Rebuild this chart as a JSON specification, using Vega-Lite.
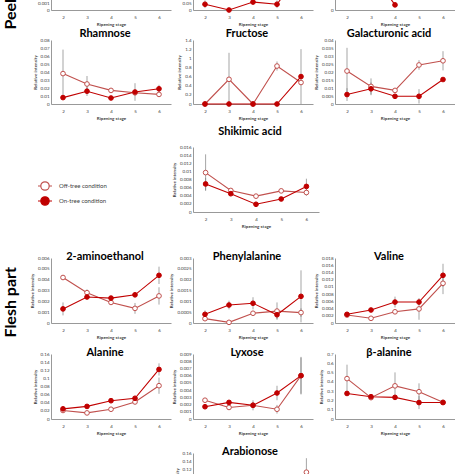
{
"$schema":"https://vega.github.io/schema/vega-lite/v6.json",
"background":"white",
"padding":{"top":-57,"left":3,"right":0,"bottom":0},
"datasets":{"d":[
{"p":"B0","c":"On","s":2,"v":0.045,"e":0.03},{"p":"B0","c":"On","s":3,"v":0,"e":0},{"p":"B0","c":"On","s":4,"v":0.062,"e":0.01},{"p":"B0","c":"On","s":5,"v":0.045,"e":0.03},{"p":"B0","c":"On","s":6,"v":0.3,"e":0.02},
{"p":"C0","c":"On","s":3,"v":0.6,"e":0.1},{"p":"C0","c":"On","s":4,"v":0.08,"e":0.01},
{"p":"Rh","c":"Off","s":2,"v":0.038,"e":0.03},{"p":"Rh","c":"Off","s":3,"v":0.025,"e":0.01},{"p":"Rh","c":"Off","s":4,"v":0.017,"e":0.002},{"p":"Rh","c":"Off","s":5,"v":0.014,"e":0.003},{"p":"Rh","c":"Off","s":6,"v":0.012,"e":0.003},
{"p":"Rh","c":"On","s":2,"v":0.008,"e":0.002},{"p":"Rh","c":"On","s":3,"v":0.016,"e":0.006},{"p":"Rh","c":"On","s":4,"v":0.0075,"e":0.002},{"p":"Rh","c":"On","s":5,"v":0.015,"e":0.011},{"p":"Rh","c":"On","s":6,"v":0.019,"e":0.005},
{"p":"Fr","c":"Off","s":2,"v":0,"e":0},{"p":"Fr","c":"Off","s":3,"v":0.54,"e":0.58},{"p":"Fr","c":"Off","s":4,"v":0,"e":0},{"p":"Fr","c":"Off","s":5,"v":0.83,"e":0.1},{"p":"Fr","c":"Off","s":6,"v":0.47,"e":0.73},
{"p":"Fr","c":"On","s":2,"v":0,"e":0},{"p":"Fr","c":"On","s":3,"v":0,"e":0},{"p":"Fr","c":"On","s":4,"v":0,"e":0},{"p":"Fr","c":"On","s":5,"v":0,"e":0},{"p":"Fr","c":"On","s":6,"v":0.6,"e":0.05},
{"p":"Ga","c":"Off","s":2,"v":0.0206,"e":0.0145},{"p":"Ga","c":"Off","s":3,"v":0.011,"e":0.005},{"p":"Ga","c":"Off","s":4,"v":0.0085,"e":0.001},{"p":"Ga","c":"Off","s":5,"v":0.0244,"e":0.003},{"p":"Ga","c":"Off","s":6,"v":0.027,"e":0.006},
{"p":"Ga","c":"On","s":2,"v":0.0059,"e":0.004},{"p":"Ga","c":"On","s":3,"v":0.0095,"e":0.004},{"p":"Ga","c":"On","s":4,"v":0.0048,"e":0.001},{"p":"Ga","c":"On","s":5,"v":0.0048,"e":0.0045},{"p":"Ga","c":"On","s":6,"v":0.0153,"e":0.001},
{"p":"Sh","c":"Off","s":2,"v":0.0097,"e":0.0045},{"p":"Sh","c":"Off","s":3,"v":0.0053,"e":0.0006},{"p":"Sh","c":"Off","s":4,"v":0.0039,"e":0.0003},{"p":"Sh","c":"Off","s":5,"v":0.0052,"e":0.0003},{"p":"Sh","c":"Off","s":6,"v":0.0048,"e":0.0008},
{"p":"Sh","c":"On","s":2,"v":0.0069,"e":0.0015},{"p":"Sh","c":"On","s":3,"v":0.0045,"e":0.0004},{"p":"Sh","c":"On","s":4,"v":0.0019,"e":0.0006},{"p":"Sh","c":"On","s":5,"v":0.0032,"e":0.0003},{"p":"Sh","c":"On","s":6,"v":0.0063,"e":0.0019},
{"p":"Am","c":"Off","s":2,"v":0.0042,"e":0.0002},{"p":"Am","c":"Off","s":3,"v":0.0028,"e":0.0003},{"p":"Am","c":"Off","s":4,"v":0.0019,"e":0.0002},{"p":"Am","c":"Off","s":5,"v":0.00135,"e":0.0005},{"p":"Am","c":"Off","s":6,"v":0.0025,"e":0.0008},
{"p":"Am","c":"On","s":2,"v":0.0013,"e":0.0006},{"p":"Am","c":"On","s":3,"v":0.0024,"e":0.0002},{"p":"Am","c":"On","s":4,"v":0.0023,"e":0.0001},{"p":"Am","c":"On","s":5,"v":0.0026,"e":0.0001},{"p":"Am","c":"On","s":6,"v":0.0044,"e":0.0008},
{"p":"Ph","c":"Off","s":2,"v":0.0002,"e":0.0001},{"p":"Ph","c":"Off","s":3,"v":0.00003,"e":0},{"p":"Ph","c":"Off","s":4,"v":0.00045,"e":0.0001},{"p":"Ph","c":"Off","s":5,"v":0.00055,"e":0.0004},{"p":"Ph","c":"Off","s":6,"v":0.00048,"e":0.0002},
{"p":"Ph","c":"On","s":2,"v":0.0004,"e":0.00018},{"p":"Ph","c":"On","s":3,"v":0.00083,"e":0.0002},{"p":"Ph","c":"On","s":4,"v":0.00091,"e":0.00028},{"p":"Ph","c":"On","s":5,"v":0.00038,"e":0.0002},{"p":"Ph","c":"On","s":6,"v":0.00123,"e":0.0012},
{"p":"Va","c":"Off","s":2,"v":0.0022,"e":0.0002},{"p":"Va","c":"Off","s":3,"v":0.0013,"e":0.0002},{"p":"Va","c":"Off","s":4,"v":0.0031,"e":0.0003},{"p":"Va","c":"Off","s":5,"v":0.0039,"e":0.003},{"p":"Va","c":"Off","s":6,"v":0.011,"e":0.003},
{"p":"Va","c":"On","s":2,"v":0.0024,"e":0.0002},{"p":"Va","c":"On","s":3,"v":0.0036,"e":0.0003},{"p":"Va","c":"On","s":4,"v":0.0058,"e":0.0015},{"p":"Va","c":"On","s":5,"v":0.0058,"e":0.0005},{"p":"Va","c":"On","s":6,"v":0.0132,"e":0.0032},
{"p":"Al","c":"Off","s":2,"v":0.021,"e":0.004},{"p":"Al","c":"Off","s":3,"v":0.015,"e":0.002},{"p":"Al","c":"Off","s":4,"v":0.024,"e":0.003},{"p":"Al","c":"Off","s":5,"v":0.042,"e":0.006},{"p":"Al","c":"Off","s":6,"v":0.082,"e":0.02},
{"p":"Al","c":"On","s":2,"v":0.025,"e":0.004},{"p":"Al","c":"On","s":3,"v":0.031,"e":0.002},{"p":"Al","c":"On","s":4,"v":0.045,"e":0.002},{"p":"Al","c":"On","s":5,"v":0.051,"e":0.003},{"p":"Al","c":"On","s":6,"v":0.122,"e":0.015},
{"p":"Ly","c":"Off","s":2,"v":0.0026,"e":0.0002},{"p":"Ly","c":"Off","s":3,"v":0.0016,"e":0.0001},{"p":"Ly","c":"Off","s":4,"v":0.0019,"e":0.0004},{"p":"Ly","c":"Off","s":5,"v":0.00135,"e":0.0006},{"p":"Ly","c":"Off","s":6,"v":0.006,"e":0.0025},
{"p":"Ly","c":"On","s":2,"v":0.0017,"e":0.0002},{"p":"Ly","c":"On","s":3,"v":0.0023,"e":0.0001},{"p":"Ly","c":"On","s":4,"v":0.0019,"e":0.0007},{"p":"Ly","c":"On","s":5,"v":0.0036,"e":0.001},{"p":"Ly","c":"On","s":6,"v":0.006,"e":0.0026},
{"p":"Ba","c":"Off","s":2,"v":0.435,"e":0.15},{"p":"Ba","c":"Off","s":3,"v":0.23,"e":0.02},{"p":"Ba","c":"Off","s":4,"v":0.357,"e":0.145},{"p":"Ba","c":"Off","s":5,"v":0.294,"e":0.09},{"p":"Ba","c":"Off","s":6,"v":0.18,"e":0.02},
{"p":"Ba","c":"On","s":2,"v":0.275,"e":0.02},{"p":"Ba","c":"On","s":3,"v":0.24,"e":0.02},{"p":"Ba","c":"On","s":4,"v":0.233,"e":0.02},{"p":"Ba","c":"On","s":5,"v":0.177,"e":0.07},{"p":"Ba","c":"On","s":6,"v":0.177,"e":0.02},
{"p":"Ar","c":"Off","s":6,"v":0.112,"e":0.035}
]},
"data":{"name":"d"},
"config":{
 "view":{"stroke":null},
 "font":"Lato",
 "title":{"font":"Lato","fontSize":11,"fontWeight":"bold","color":"#000000","offset":-2,"dx":-6},
 "axis":{"domainColor":"#7f7f7f","domainWidth":0.8,"ticks":false,"grid":false,"labelFontSize":4.5,"labelColor":"#404040","labelFont":"Lato","titleFont":"Lato","titleFontSize":4.5,"titleColor":"#404040","titleFontWeight":"bold"},
 "axisX":{"labelPadding":4,"titlePadding":3,"labelAngle":0},
 "axisY":{"labelPadding":2,"titlePadding":3}
},
"resolve":{"scale":{"fill":"independent","stroke":"independent"},"legend":{"fill":"independent","stroke":"independent"}},
"spacing":23,
"vconcat":[
{
 "title":{"text":"Peel part","orient":"left","anchor":"end","offset":10,"fontSize":16,"fontWeight":"bold","font":"Lato","color":"#000000","dx":-23,"dy":0},
 "spacing":6,
 "resolve":{"scale":{"fill":"independent","stroke":"independent"},"legend":{"fill":"independent","stroke":"independent"}},
 "vconcat":[
 {"spacing":2,
  "resolve":{"scale":{"fill":"independent","stroke":"independent"},"legend":{"fill":"independent","stroke":"independent"}},
  "vconcat":[
  {"hconcat":[
   {"width":120,"height":64,"transform":[{"filter":"datum.p==='A0'"}],
    "encoding":{"x":{"field":"s","type":"ordinal","scale":{"type":"point","padding":0.5,"domain":[2,3,4,5,6]},"axis":{"title":"Ripening stage"}},
     "y":{"field":"v","type":"quantitative","scale":{"domain":[0,0.01]},"axis":{"values":[0,0.001,0.002,0.003,0.004,0.005,0.006,0.007,0.008,0.009,0.01],"format":"~g","title":"Relative intensity"}}},
    "layer":[
     {"mark":{"type":"errorbar","color":"#7f7f7f","thickness":0.7,"clip":true},"encoding":{"yError":{"field":"e"},"detail":{"field":"c","type":"nominal"}}},
     {"mark":{"type":"line","strokeWidth":1.1},"encoding":{"stroke":{"field":"c","type":"nominal","scale":{"domain":["Off","On"],"range":["#c0504d","#c00000"]},"legend":null}}},
     {"mark":{"type":"point","shape":"circle","size":22,"strokeWidth":1,"opacity":1},"encoding":{"fill":{"field":"c","type":"nominal","scale":{"domain":["Off","On"],"range":["#ffffff","#c00000"]},"legend":null},"stroke":{"field":"c","type":"nominal","scale":{"domain":["Off","On"],"range":["#c0504d","#c00000"]},"legend":null}}}
    ]},
   {"width":120,"height":64,"transform":[{"filter":"datum.p==='B0'"}],
    "encoding":{"x":{"field":"s","type":"ordinal","scale":{"type":"point","padding":0.5,"domain":[2,3,4,5,6]},"axis":{"title":"Ripening stage"}},
     "y":{"field":"v","type":"quantitative","scale":{"domain":[0,0.5]},"axis":{"values":[0,0.05,0.1,0.15,0.2,0.25,0.3,0.35,0.4,0.45,0.5],"format":"~g","title":"Relative intensity"}}},
    "layer":[
     {"mark":{"type":"errorbar","color":"#7f7f7f","thickness":0.7,"clip":true},"encoding":{"yError":{"field":"e"},"detail":{"field":"c","type":"nominal"}}},
     {"mark":{"type":"line","strokeWidth":1.1},"encoding":{"stroke":{"field":"c","type":"nominal","scale":{"domain":["Off","On"],"range":["#c0504d","#c00000"]},"legend":null}}},
     {"mark":{"type":"point","shape":"circle","size":22,"strokeWidth":1,"opacity":1},"encoding":{"fill":{"field":"c","type":"nominal","scale":{"domain":["Off","On"],"range":["#ffffff","#c00000"]},"legend":null},"stroke":{"field":"c","type":"nominal","scale":{"domain":["Off","On"],"range":["#c0504d","#c00000"]},"legend":null}}}
    ]},
   {"width":120,"height":64,"transform":[{"filter":"datum.p==='C0'"}],
    "encoding":{"x":{"field":"s","type":"ordinal","scale":{"type":"point","padding":0.5,"domain":[2,3,4,5,6]},"axis":{"title":"Ripening stage"}},
     "y":{"field":"v","type":"quantitative","scale":{"domain":[0,1]},"axis":{"values":[0,0.2,0.4,0.6,0.8,1],"format":"~g","title":"Relative intensity"}}},
    "layer":[
     {"mark":{"type":"errorbar","color":"#7f7f7f","thickness":0.7,"clip":true},"encoding":{"yError":{"field":"e"},"detail":{"field":"c","type":"nominal"}}},
     {"mark":{"type":"line","strokeWidth":1.1},"encoding":{"stroke":{"field":"c","type":"nominal","scale":{"domain":["Off","On"],"range":["#c0504d","#c00000"]},"legend":null}}},
     {"mark":{"type":"point","shape":"circle","size":22,"strokeWidth":1,"opacity":1},"encoding":{"fill":{"field":"c","type":"nominal","scale":{"domain":["Off","On"],"range":["#ffffff","#c00000"]},"legend":null},"stroke":{"field":"c","type":"nominal","scale":{"domain":["Off","On"],"range":["#c0504d","#c00000"]},"legend":null}}}
    ]}
  ],"spacing":22,"bounds":"flush","resolve":{"scale":{"fill":"independent","stroke":"independent"},"legend":{"fill":"independent","stroke":"independent"}}},
  {"hconcat":[
   {"width":120,"height":64,"title":"Rhamnose","transform":[{"filter":"datum.p==='Rh'"}],
    "encoding":{"x":{"field":"s","type":"ordinal","scale":{"type":"point","padding":0.5,"domain":[2,3,4,5,6]},"axis":{"title":"Ripening stage"}},
     "y":{"field":"v","type":"quantitative","scale":{"domain":[0,0.08]},"axis":{"values":[0,0.01,0.02,0.03,0.04,0.05,0.06,0.07,0.08],"format":"~g","title":"Relative intensity"}}},
    "layer":[
     {"mark":{"type":"errorbar","color":"#7f7f7f","thickness":0.7,"clip":true},"encoding":{"yError":{"field":"e"},"detail":{"field":"c","type":"nominal"}}},
     {"mark":{"type":"line","strokeWidth":1.1},"encoding":{"stroke":{"field":"c","type":"nominal","scale":{"domain":["Off","On"],"range":["#c0504d","#c00000"]},"legend":null}}},
     {"mark":{"type":"point","shape":"circle","size":22,"strokeWidth":1,"opacity":1},"encoding":{"fill":{"field":"c","type":"nominal","scale":{"domain":["Off","On"],"range":["#ffffff","#c00000"]},"legend":null},"stroke":{"field":"c","type":"nominal","scale":{"domain":["Off","On"],"range":["#c0504d","#c00000"]},"legend":null}}}
    ]},
   {"width":120,"height":64,"title":"Fructose","transform":[{"filter":"datum.p==='Fr'"}],
    "encoding":{"x":{"field":"s","type":"ordinal","scale":{"type":"point","padding":0.5,"domain":[2,3,4,5,6]},"axis":{"title":"Ripening stage"}},
     "y":{"field":"v","type":"quantitative","scale":{"domain":[0,1.4]},"axis":{"values":[0,0.2,0.4,0.6,0.8,1,1.2,1.4],"format":"~g","title":"Relative intensity"}}},
    "layer":[
     {"mark":{"type":"errorbar","color":"#7f7f7f","thickness":0.7,"clip":true},"encoding":{"yError":{"field":"e"},"detail":{"field":"c","type":"nominal"}}},
     {"mark":{"type":"line","strokeWidth":1.1},"encoding":{"stroke":{"field":"c","type":"nominal","scale":{"domain":["Off","On"],"range":["#c0504d","#c00000"]},"legend":null}}},
     {"mark":{"type":"point","shape":"circle","size":22,"strokeWidth":1,"opacity":1},"encoding":{"fill":{"field":"c","type":"nominal","scale":{"domain":["Off","On"],"range":["#ffffff","#c00000"]},"legend":null},"stroke":{"field":"c","type":"nominal","scale":{"domain":["Off","On"],"range":["#c0504d","#c00000"]},"legend":null}}}
    ]},
   {"width":120,"height":64,"title":"Galacturonic acid","transform":[{"filter":"datum.p==='Ga'"}],
    "encoding":{"x":{"field":"s","type":"ordinal","scale":{"type":"point","padding":0.5,"domain":[2,3,4,5,6]},"axis":{"title":"Ripening stage"}},
     "y":{"field":"v","type":"quantitative","scale":{"domain":[0,0.04]},"axis":{"values":[0,0.005,0.01,0.015,0.02,0.025,0.03,0.035,0.04],"format":"~g","title":"Relative intensity"}}},
    "layer":[
     {"mark":{"type":"errorbar","color":"#7f7f7f","thickness":0.7,"clip":true},"encoding":{"yError":{"field":"e"},"detail":{"field":"c","type":"nominal"}}},
     {"mark":{"type":"line","strokeWidth":1.1},"encoding":{"stroke":{"field":"c","type":"nominal","scale":{"domain":["Off","On"],"range":["#c0504d","#c00000"]},"legend":null}}},
     {"mark":{"type":"point","shape":"circle","size":22,"strokeWidth":1,"opacity":1},"encoding":{"fill":{"field":"c","type":"nominal","scale":{"domain":["Off","On"],"range":["#ffffff","#c00000"]},"legend":null},"stroke":{"field":"c","type":"nominal","scale":{"domain":["Off","On"],"range":["#c0504d","#c00000"]},"legend":null}}}
    ]}
  ],"spacing":22,"bounds":"flush","resolve":{"scale":{"fill":"independent","stroke":"independent"},"legend":{"fill":"independent","stroke":"independent"}}}
  ]},
  {"hconcat":[
   {"width":120,"height":65,"data":{"values":[{"a":1}]},"mark":{"type":"point","opacity":0}},
   {"width":126,"height":65,"title":{"text":"Shikimic acid","offset":7},"transform":[{"filter":"datum.p==='Sh'"}],
    "encoding":{"x":{"field":"s","type":"ordinal","scale":{"type":"point","padding":0.5,"domain":[2,3,4,5,6]},"axis":{"title":"Ripening stage"}},
     "y":{"field":"v","type":"quantitative","scale":{"domain":[0,0.016]},"axis":{"values":[0,0.002,0.004,0.006,0.008,0.01,0.012,0.014,0.016],"format":"~g","title":"Relative intensity"}}},
    "layer":[
     {"mark":{"type":"errorbar","color":"#7f7f7f","thickness":0.7,"clip":true},"encoding":{"yError":{"field":"e"},"detail":{"field":"c","type":"nominal"}}},
     {"mark":{"type":"line","strokeWidth":1.1},"encoding":{"stroke":{"field":"c","type":"nominal","scale":{"domain":["Off","On"],"range":["#c0504d","#c00000"]},"legend":{"orient":"none","legendX":-156,"legendY":31,"title":null,"symbolType":"M-1,0H-0.6M0.6,0H1M0.6,0A0.6,0.6,0,1,1,-0.6,0A0.6,0.6,0,1,1,0.6,0","symbolSize":196,"symbolStrokeWidth":1.2,"labelFontSize":6,"labelFont":"Lato","labelColor":"#404040","labelOffset":6,"rowPadding":-1,"labelExpr":"datum.label=='Off' ? 'Off-tree condition' : 'On-tree condition'"}}}},
     {"mark":{"type":"point","shape":"circle","size":22,"strokeWidth":1,"opacity":1},"encoding":{"fill":{"field":"c","type":"nominal","scale":{"domain":["Off","On"],"range":["#ffffff","#c00000"]},"legend":{"orient":"none","legendX":-156,"legendY":31,"title":null,"symbolType":"M-1,0H-0.6M0.6,0H1M0.6,0A0.6,0.6,0,1,1,-0.6,0A0.6,0.6,0,1,1,0.6,0","symbolSize":196,"symbolStrokeWidth":1.2,"labelFontSize":6,"labelFont":"Lato","labelColor":"#404040","labelOffset":6,"rowPadding":-1,"labelExpr":"datum.label=='Off' ? 'Off-tree condition' : 'On-tree condition'"}},"stroke":{"field":"c","type":"nominal","scale":{"domain":["Off","On"],"range":["#c0504d","#c00000"]},"legend":{"orient":"none","legendX":-156,"legendY":31,"title":null,"symbolType":"M-1,0H-0.6M0.6,0H1M0.6,0A0.6,0.6,0,1,1,-0.6,0A0.6,0.6,0,1,1,0.6,0","symbolSize":196,"symbolStrokeWidth":1.2,"labelFontSize":6,"labelFont":"Lato","labelColor":"#404040","labelOffset":6,"rowPadding":-1,"labelExpr":"datum.label=='Off' ? 'Off-tree condition' : 'On-tree condition'"}}}}
    ]}
  ],"spacing":22,"bounds":"flush","resolve":{"scale":{"fill":"independent","stroke":"independent"},"legend":{"fill":"independent","stroke":"independent"}}}
 ]
},
{
 "title":{"text":"Flesh part","orient":"left","anchor":"end","offset":10,"fontSize":16,"fontWeight":"bold","font":"Lato","color":"#000000","dx":-16,"dy":0},
 "spacing":11,
 "resolve":{"scale":{"fill":"independent","stroke":"independent"},"legend":{"fill":"independent","stroke":"independent"}},
 "vconcat":[
 {"spacing":8,
  "resolve":{"scale":{"fill":"independent","stroke":"independent"},"legend":{"fill":"independent","stroke":"independent"}},
  "vconcat":[
  {"hconcat":[
   {"width":120,"height":65,"title":{"text":"2-aminoethanol","offset":-7},"transform":[{"filter":"datum.p==='Am'"}],
    "encoding":{"x":{"field":"s","type":"ordinal","scale":{"type":"point","padding":0.5,"domain":[2,3,4,5,6]},"axis":{"title":"Ripening stage"}},
     "y":{"field":"v","type":"quantitative","scale":{"domain":[0,0.006]},"axis":{"values":[0,0.001,0.002,0.003,0.004,0.005,0.006],"format":"~g","title":"Relative intensity"}}},
    "layer":[
     {"mark":{"type":"errorbar","color":"#7f7f7f","thickness":0.7,"clip":true},"encoding":{"yError":{"field":"e"},"detail":{"field":"c","type":"nominal"}}},
     {"mark":{"type":"line","strokeWidth":1.1},"encoding":{"stroke":{"field":"c","type":"nominal","scale":{"domain":["Off","On"],"range":["#c0504d","#c00000"]},"legend":null}}},
     {"mark":{"type":"point","shape":"circle","size":22,"strokeWidth":1,"opacity":1},"encoding":{"fill":{"field":"c","type":"nominal","scale":{"domain":["Off","On"],"range":["#ffffff","#c00000"]},"legend":null},"stroke":{"field":"c","type":"nominal","scale":{"domain":["Off","On"],"range":["#c0504d","#c00000"]},"legend":null}}}
    ]},
   {"width":120,"height":65,"title":{"text":"Phenylalanine","offset":-7},"transform":[{"filter":"datum.p==='Ph'"}],
    "encoding":{"x":{"field":"s","type":"ordinal","scale":{"type":"point","padding":0.5,"domain":[2,3,4,5,6]},"axis":{"title":"Ripening stage"}},
     "y":{"field":"v","type":"quantitative","scale":{"domain":[0,0.003]},"axis":{"values":[0,0.0005,0.001,0.0015,0.002,0.0025,0.003],"format":"~g","title":"Relative intensity"}}},
    "layer":[
     {"mark":{"type":"errorbar","color":"#7f7f7f","thickness":0.7,"clip":true},"encoding":{"yError":{"field":"e"},"detail":{"field":"c","type":"nominal"}}},
     {"mark":{"type":"line","strokeWidth":1.1},"encoding":{"stroke":{"field":"c","type":"nominal","scale":{"domain":["Off","On"],"range":["#c0504d","#c00000"]},"legend":null}}},
     {"mark":{"type":"point","shape":"circle","size":22,"strokeWidth":1,"opacity":1},"encoding":{"fill":{"field":"c","type":"nominal","scale":{"domain":["Off","On"],"range":["#ffffff","#c00000"]},"legend":null},"stroke":{"field":"c","type":"nominal","scale":{"domain":["Off","On"],"range":["#c0504d","#c00000"]},"legend":null}}}
    ]},
   {"width":120,"height":65,"title":{"text":"Valine","offset":-7},"transform":[{"filter":"datum.p==='Va'"}],
    "encoding":{"x":{"field":"s","type":"ordinal","scale":{"type":"point","padding":0.5,"domain":[2,3,4,5,6]},"axis":{"title":"Ripening stage"}},
     "y":{"field":"v","type":"quantitative","scale":{"domain":[0,0.018]},"axis":{"values":[0,0.002,0.004,0.006,0.008,0.01,0.012,0.014,0.016,0.018],"format":"~g","title":"Relative intensity"}}},
    "layer":[
     {"mark":{"type":"errorbar","color":"#7f7f7f","thickness":0.7,"clip":true},"encoding":{"yError":{"field":"e"},"detail":{"field":"c","type":"nominal"}}},
     {"mark":{"type":"line","strokeWidth":1.1},"encoding":{"stroke":{"field":"c","type":"nominal","scale":{"domain":["Off","On"],"range":["#c0504d","#c00000"]},"legend":null}}},
     {"mark":{"type":"point","shape":"circle","size":22,"strokeWidth":1,"opacity":1},"encoding":{"fill":{"field":"c","type":"nominal","scale":{"domain":["Off","On"],"range":["#ffffff","#c00000"]},"legend":null},"stroke":{"field":"c","type":"nominal","scale":{"domain":["Off","On"],"range":["#c0504d","#c00000"]},"legend":null}}}
    ]}
  ],"spacing":22,"bounds":"flush","resolve":{"scale":{"fill":"independent","stroke":"independent"},"legend":{"fill":"independent","stroke":"independent"}}},
  {"hconcat":[
   {"width":120,"height":65,"title":{"text":"Alanine","offset":-7},"transform":[{"filter":"datum.p==='Al'"}],
    "encoding":{"x":{"field":"s","type":"ordinal","scale":{"type":"point","padding":0.5,"domain":[2,3,4,5,6]},"axis":{"title":"Ripening stage"}},
     "y":{"field":"v","type":"quantitative","scale":{"domain":[0,0.16]},"axis":{"values":[0,0.02,0.04,0.06,0.08,0.1,0.12,0.14,0.16],"format":"~g","title":"Relative intensity"}}},
    "layer":[
     {"mark":{"type":"errorbar","color":"#7f7f7f","thickness":0.7,"clip":true},"encoding":{"yError":{"field":"e"},"detail":{"field":"c","type":"nominal"}}},
     {"mark":{"type":"line","strokeWidth":1.1},"encoding":{"stroke":{"field":"c","type":"nominal","scale":{"domain":["Off","On"],"range":["#c0504d","#c00000"]},"legend":null}}},
     {"mark":{"type":"point","shape":"circle","size":22,"strokeWidth":1,"opacity":1},"encoding":{"fill":{"field":"c","type":"nominal","scale":{"domain":["Off","On"],"range":["#ffffff","#c00000"]},"legend":null},"stroke":{"field":"c","type":"nominal","scale":{"domain":["Off","On"],"range":["#c0504d","#c00000"]},"legend":null}}}
    ]},
   {"width":120,"height":65,"title":{"text":"Lyxose","offset":-7},"transform":[{"filter":"datum.p==='Ly'"}],
    "encoding":{"x":{"field":"s","type":"ordinal","scale":{"type":"point","padding":0.5,"domain":[2,3,4,5,6]},"axis":{"title":"Ripening stage"}},
     "y":{"field":"v","type":"quantitative","scale":{"domain":[0,0.009]},"axis":{"values":[0,0.001,0.002,0.003,0.004,0.005,0.006,0.007,0.008,0.009],"format":"~g","title":"Relative intensity"}}},
    "layer":[
     {"mark":{"type":"errorbar","color":"#7f7f7f","thickness":0.7,"clip":true},"encoding":{"yError":{"field":"e"},"detail":{"field":"c","type":"nominal"}}},
     {"mark":{"type":"line","strokeWidth":1.1},"encoding":{"stroke":{"field":"c","type":"nominal","scale":{"domain":["Off","On"],"range":["#c0504d","#c00000"]},"legend":null}}},
     {"mark":{"type":"point","shape":"circle","size":22,"strokeWidth":1,"opacity":1},"encoding":{"fill":{"field":"c","type":"nominal","scale":{"domain":["Off","On"],"range":["#ffffff","#c00000"]},"legend":null},"stroke":{"field":"c","type":"nominal","scale":{"domain":["Off","On"],"range":["#c0504d","#c00000"]},"legend":null}}}
    ]},
   {"width":120,"height":65,"title":{"text":"β-alanine","offset":-7},"transform":[{"filter":"datum.p==='Ba'"}],
    "encoding":{"x":{"field":"s","type":"ordinal","scale":{"type":"point","padding":0.5,"domain":[2,3,4,5,6]},"axis":{"title":"Ripening stage"}},
     "y":{"field":"v","type":"quantitative","scale":{"domain":[0,0.7]},"axis":{"values":[0,0.1,0.2,0.3,0.4,0.5,0.6,0.7],"format":"~g","title":"Relative intensity"}}},
    "layer":[
     {"mark":{"type":"errorbar","color":"#7f7f7f","thickness":0.7,"clip":true},"encoding":{"yError":{"field":"e"},"detail":{"field":"c","type":"nominal"}}},
     {"mark":{"type":"line","strokeWidth":1.1},"encoding":{"stroke":{"field":"c","type":"nominal","scale":{"domain":["Off","On"],"range":["#c0504d","#c00000"]},"legend":null}}},
     {"mark":{"type":"point","shape":"circle","size":22,"strokeWidth":1,"opacity":1},"encoding":{"fill":{"field":"c","type":"nominal","scale":{"domain":["Off","On"],"range":["#ffffff","#c00000"]},"legend":null},"stroke":{"field":"c","type":"nominal","scale":{"domain":["Off","On"],"range":["#c0504d","#c00000"]},"legend":null}}}
    ]}
  ],"spacing":22,"bounds":"flush","resolve":{"scale":{"fill":"independent","stroke":"independent"},"legend":{"fill":"independent","stroke":"independent"}}}
  ]},
  {"hconcat":[
   {"width":120,"height":64,"data":{"values":[{"a":1}]},"mark":{"type":"point","opacity":0}},
   {"width":126,"height":64,"title":{"text":"Arabionose","offset":-7},"transform":[{"filter":"datum.p==='Ar'"}],
    "encoding":{"x":{"field":"s","type":"ordinal","scale":{"type":"point","padding":0.5,"domain":[2,3,4,5,6]},"axis":{"title":"Ripening stage"}},
     "y":{"field":"v","type":"quantitative","scale":{"domain":[0,0.16]},"axis":{"values":[0,0.02,0.04,0.06,0.08,0.1,0.12,0.14,0.16],"format":"~g","title":"Relative intensity"}}},
    "layer":[
     {"mark":{"type":"errorbar","color":"#7f7f7f","thickness":0.7,"clip":true},"encoding":{"yError":{"field":"e"},"detail":{"field":"c","type":"nominal"}}},
     {"mark":{"type":"line","strokeWidth":1.1},"encoding":{"stroke":{"field":"c","type":"nominal","scale":{"domain":["Off","On"],"range":["#c0504d","#c00000"]},"legend":null}}},
     {"mark":{"type":"point","shape":"circle","size":22,"strokeWidth":1,"opacity":1},"encoding":{"fill":{"field":"c","type":"nominal","scale":{"domain":["Off","On"],"range":["#ffffff","#c00000"]},"legend":null},"stroke":{"field":"c","type":"nominal","scale":{"domain":["Off","On"],"range":["#c0504d","#c00000"]},"legend":null}}}
    ]}
  ],"spacing":22,"bounds":"flush","resolve":{"scale":{"fill":"independent","stroke":"independent"},"legend":{"fill":"independent","stroke":"independent"}}}
 ]
}
]
}
